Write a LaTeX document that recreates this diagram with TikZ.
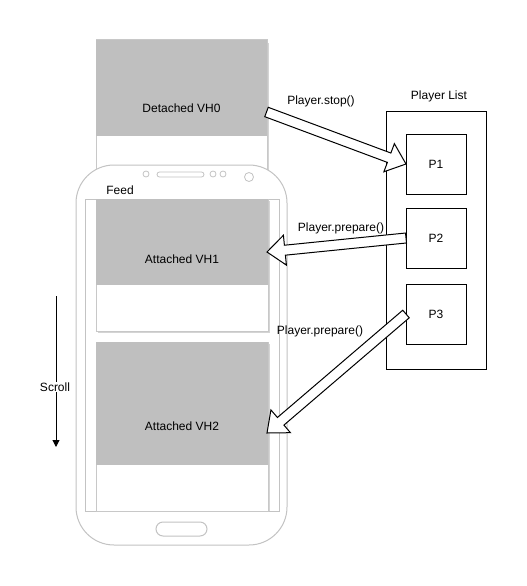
\documentclass[tikz,border=0pt]{standalone}
\usepackage{fontspec}
\setmainfont{Liberation Sans}
\usetikzlibrary{calc,arrows.meta}
\definecolor{cardgray}{RGB}{191,191,191}
\definecolor{shadowc}{RGB}{212,212,212}
\definecolor{cardedge}{RGB}{200,200,200}
\definecolor{phonec}{RGB}{195,195,195}
\newcommand{\flexarrow}[2]{%
  \coordinate (fa-h) at ($(#2)!18pt!(#1)$);
  \draw[flexarrowstyle] ($(#1)!5pt!90:(#2)$) -- ($(fa-h)!5pt!90:(#2)$) -- ($(fa-h)!15pt!90:(#2)$) -- (#2)
    -- ($(fa-h)!15pt!-90:(#2)$) -- ($(fa-h)!5pt!-90:(#2)$) -- ($(#1)!5pt!-90:(#2)$) -- cycle;
}
\begin{document}
\begin{tikzpicture}[x=1pt,y=-1pt,font=\fontsize{12}{14}\selectfont,
  box/.style={inner sep=0pt,outer sep=0pt,anchor=north west},
  shadowbox/.style={box,fill=shadowc},
  cardwhite/.style={box,fill=white,draw=cardedge,line width=1pt},
  cardgrey/.style={box,fill=cardgray},
  phonepart/.style={box,draw=phonec,fill=white,line width=1pt},
  dot/.style={circle,draw=phonec,fill=white,line width=0.8pt,inner sep=0pt,outer sep=0pt},
  pbox/.style={draw=black,fill=white,line width=1pt,minimum width=60pt,minimum height=60pt,inner sep=0pt,outer sep=0pt},
  flexarrowstyle/.style={draw=black,fill=white,line width=1pt,line join=miter},
  lbl/.style={inner sep=1pt}]
\useasboundingbox (0,0) rectangle (527,586);

% Detached card VH0 (behind the phone)
\node[shadowbox,minimum width=171pt,minimum height=160pt] (vh0s) at (98,43) {};
\node[cardwhite,minimum width=171pt,minimum height=160pt] (vh0) at (96,40) {};
\node[cardgrey,minimum width=171pt,minimum height=96pt] (vh0g) at (96,40) {};
\node[lbl] (vh0t) at (181.5,108) {Detached VH0};

% Phone
\node[phonepart,minimum width=211pt,minimum height=380pt,rounded corners=38pt] (phone) at (76,165) {};
\node[phonepart,minimum width=194pt,minimum height=312pt] (screen) at (85,199) {};
\node[phonepart,minimum width=51pt,minimum height=14pt,rounded corners=7pt] (home) at (156,522) {};
\node[phonepart,line width=0.8pt,minimum width=47pt,minimum height=5pt,rounded corners=2.5pt] (speaker) at (157,172) {};
\node[dot,minimum size=6pt] (d1) at (146,174) {};
\node[dot,minimum size=6pt] (d2) at (213,174) {};
\node[dot,minimum size=6pt] (d3) at (223,174) {};
\node[dot,minimum size=9pt] (cam) at (249,177) {};
\node[lbl] (feed) at (120,190) {Feed};

% Attached card VH1
\node[shadowbox,minimum width=172pt,minimum height=132pt] (vh1s) at (98,201) {};
\node[cardwhite,minimum width=172pt,minimum height=132pt] (vh1) at (96,199) {};
\node[cardgrey,minimum width=172pt,minimum height=86pt] (vh1g) at (96,199) {};
\node[lbl] (vh1t) at (182,259) {Attached VH1};

% Attached card VH2
\node[shadowbox,minimum width=172pt,minimum height=167pt] (vh2s) at (98,344) {};
\node[cardwhite,minimum width=172pt,minimum height=169pt] (vh2) at (96,342) {};
\node[cardgrey,minimum width=172pt,minimum height=123pt] (vh2g) at (96,342) {};
\node[lbl] (vh2t) at (182,426) {Attached VH2};

% Player list
\node[box,draw=black,line width=1pt,minimum width=100pt,minimum height=258pt] (plist) at (386,111) {};
\node[lbl] (plistt) at (439,96) {Player List};
\node[pbox] (p1) at (436,164) {P1};
\node[pbox] (p2) at (436,238) {P2};
\node[pbox] (p3) at (436,314) {P3};

% Block arrows
\coordinate (a1s) at (266.5,112);
\coordinate (a2e) at (267,252);
\coordinate (a3e) at (267,433);
\flexarrow{a1s}{p1.west}
\flexarrow{p2.west}{a2e}
\flexarrow{p3.west}{a3e}
\node[lbl] (l1) at (321,101) {Player.stop()};
\node[lbl] (l2) at (341,228) {Player.prepare()};
\node[lbl] (l3) at (320,331) {Player.prepare()};

% Scroll
\coordinate (sc1) at (56,296);
\coordinate (sc2) at (56,447);
\draw[line width=1pt,-{Triangle[length=7pt,width=7pt]}] (sc1) -- (sc2);
\node[lbl,fill=white] (scroll) at (55,387) {Scroll};
\end{tikzpicture}
\end{document}
